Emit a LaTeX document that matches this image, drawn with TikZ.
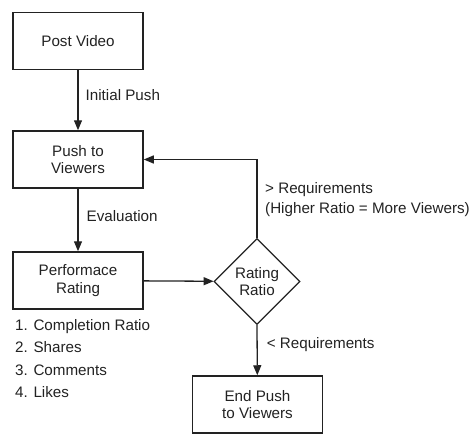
\documentclass[tikz,border=0pt]{standalone}
\usepackage{fontspec}
\setmainfont{Liberation Sans}
\usetikzlibrary{arrows.meta,shapes.geometric}
\definecolor{ink}{HTML}{222222}
\begin{document}
\begin{tikzpicture}[x=1pt,y=-1pt,
  font=\fontsize{15.2}{17.5}\selectfont,
  every node/.style={text=ink},
  box/.style={draw=ink,line width=1.5pt,minimum width=130pt,minimum height=57pt,align=center,inner sep=0pt},
  dec/.style={draw=ink,line width=1.3pt,diamond,minimum width=86pt,minimum height=86pt,inner sep=0pt,align=center,aspect=1},
  conn/.style={draw=ink,line width=1.3pt,-{Triangle[length=10pt,width=8pt]}},
  lbl/.style={anchor=west,inner sep=0pt,align=left}]
\useasboundingbox (0,0) rectangle (474,442);
\node[box] (post) at (78,41) {Post Video};
\node[box] (push) at (78,159.5) {Push to\\Viewers};
\node[box] (perf) at (78,280.5) {Performace\\Rating};
\node[dec] (ratio) at (257,281.5) {Rating\\Ratio};
\node[box] (endp) at (257.5,404.5) {End Push\\to Viewers};
\coordinate (corner) at (257,159.5);
\draw[conn] (post) -- node[lbl,right=7pt,yshift=5pt] {Initial Push} (push);
\draw[conn] (push) -- node[lbl,right=8pt,yshift=4pt] {Evaluation} (perf);
\draw[conn] (perf) -- (ratio);
\draw[conn] (ratio.north) -- (corner) -- (push.east);
\draw[conn] (ratio.south) -- node[lbl,right=9pt,yshift=6pt] {< Requirements} (endp);
\node[lbl,font=\fontsize{15.2}{20}\selectfont] (req) at (265,200) {> Requirements\\(Higher Ratio = More Viewers)};
\node[lbl,anchor=north west,font=\fontsize{15.2}{22.5}\selectfont] (list) at (15,319) {1. Completion Ratio\\2. Shares\\3. Comments\\4. Likes};
\end{tikzpicture}
\end{document}
